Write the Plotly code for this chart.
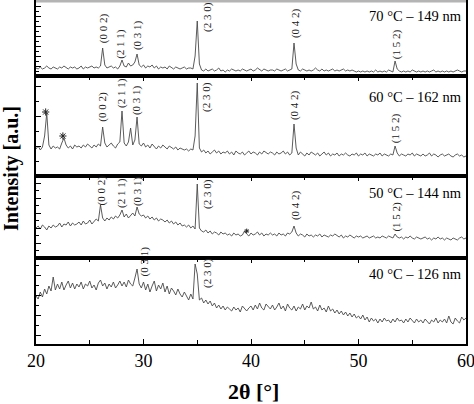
import plotly.graph_objects as go

# ---------------- data ----------------
two_theta = [round(20 + 0.2 * i, 1) for i in range(201)]  # 20.0 ... 60.0 deg

sample_labels = ["70 °C – 149 nm", "60 °C – 162 nm", "50 °C – 144 nm", "40 °C – 126 nm"]

int_70 = [
    8, 7, 9, 7, 8, 10, 8, 7, 9, 8,
    7, 9, 8, 10, 8, 7, 9, 8, 9, 7,
    8, 10, 7, 9, 8, 9, 10, 8, 9, 8,
    10, 28, 11, 8, 9, 10, 8, 9, 7, 10,
    16, 10, 9, 13, 10, 11, 14, 22, 11, 9,
    11, 8, 10, 9, 11, 8, 10, 7, 9, 8,
    9, 7, 10, 8, 7, 9, 8, 7, 8, 9,
    7, 8, 8, 7, 20, 55, 12, 6, 5, 7,
    5, 6, 7, 5, 6, 8, 5, 6, 4, 6,
    5, 7, 6, 5, 6, 5, 7, 6, 5, 6,
    7, 5, 6, 8, 6, 5, 7, 6, 5, 6,
    6, 5, 7, 6, 5, 6, 7, 5, 6, 7,
    33, 12, 6, 5, 7, 6, 5, 6, 5, 6,
    8, 6, 5, 7, 5, 6, 5, 6, 7, 5,
    6, 5, 6, 7, 5, 6, 5, 6, 5, 4,
    5, 4, 5, 4, 5, 4, 5, 4, 6, 4,
    5, 4, 5, 4, 6, 5, 4, 15, 7, 5,
    4, 5, 4, 5, 4, 6, 5, 4, 5, 4,
    5, 4, 5, 4, 5, 6, 4, 5, 4, 5,
    4, 5, 4, 5, 4, 5, 6, 5, 4, 5,
    5,
]

int_60 = [
    27, 30, 26, 29, 40, 63, 31, 27, 30, 28,
    29, 27, 33, 38, 31, 28, 30, 27, 31, 29,
    30, 28, 31, 29, 32, 30, 28, 31, 29, 32,
    30, 49, 33, 29, 31, 33, 30, 28, 32, 34,
    65, 33, 30, 34, 48, 31, 36, 59, 32, 30,
    33, 29, 31, 28, 32, 30, 27, 30, 28, 31,
    29, 27, 30, 28, 27, 29, 26, 28, 27, 26,
    27, 25, 27, 26, 40, 93, 28, 24, 26, 23,
    25, 22, 24, 26, 23, 25, 22, 24, 23, 25,
    22, 24, 21, 25, 23, 22, 24, 21, 23, 25,
    22, 24, 23, 21, 24, 22, 25, 23, 22, 24,
    23, 21, 24, 22, 23, 25, 22, 24, 21, 23,
    52, 28, 21, 24, 22, 20, 23, 21, 24, 22,
    21, 23, 20, 22, 24, 21, 23, 20, 22, 21,
    23, 20, 22, 21, 23, 21, 20, 22, 21, 23,
    20, 22, 21, 23, 20, 22, 21, 20, 22, 21,
    23, 20, 22, 21, 20, 22, 21, 30, 23, 20,
    22, 21, 20, 22, 21, 23, 20, 22, 21, 20,
    22, 20, 21, 23, 20, 22, 21, 19, 21, 22,
    20, 21, 22, 20, 19, 21, 22, 20, 21, 19,
    20,
]

int_50 = [
    30, 32, 29, 33, 31, 28, 32, 30, 33, 31,
    32, 35, 31, 34, 33, 36, 32, 35, 33, 34,
    36, 33, 37, 34, 35, 38, 34, 36, 39, 37,
    53, 40, 37, 40, 38, 41, 39, 42, 40, 43,
    48, 41, 44, 40, 43, 45, 42, 51, 44, 42,
    43, 40, 42, 39, 41, 38, 40, 37, 39, 38,
    36, 38, 35, 37, 34, 36, 33, 35, 32, 33,
    31, 33, 30, 32, 29, 74, 30, 27, 26, 28,
    25, 27, 24, 26, 25, 23, 26, 24, 25, 23,
    24, 22, 25, 23, 24, 22, 23, 27, 24, 22,
    25, 23, 24, 26, 23, 25, 22, 24, 23, 25,
    23, 24, 22, 25, 23, 24, 22, 25, 24, 26,
    32, 25, 22, 24, 23, 21, 24, 22, 23, 21,
    23, 22, 24, 21, 23, 22, 21, 23, 22, 24,
    22, 21, 23, 20, 22, 21, 23, 21, 20, 22,
    21, 22, 20, 21, 22, 20, 21, 22, 20, 21,
    20, 22, 21, 20, 22, 21, 20, 24, 21, 20,
    21, 19, 21, 20, 22, 20, 19, 21, 20, 19,
    20, 21, 19, 20, 18, 20, 19, 21, 19, 20,
    18, 20, 19, 18, 20, 19, 18, 20, 21, 19,
    20,
]

int_40 = [
    48, 45, 52, 47, 55, 50, 58, 53, 67, 54,
    60, 55, 62, 54, 59, 63, 56, 61, 55, 60,
    57, 62, 55, 60, 58, 63, 56, 59, 54, 61,
    64, 58, 61, 55, 60, 57, 62, 56, 59, 63,
    58, 62, 57, 64, 60, 58, 66, 75, 60, 56,
    62, 54, 60, 52, 58, 63, 53, 59, 55, 61,
    52, 58, 50, 56, 53, 49, 55, 50, 47, 52,
    48, 44, 50, 45, 80, 70, 44, 46, 41, 44,
    40, 43, 38, 41, 36, 39, 35, 38, 34, 37,
    35, 33, 37, 34, 36, 32, 38, 35, 33, 36,
    38, 34, 39, 35, 41, 36, 34, 40, 37, 35,
    39, 34, 37, 41, 35, 38, 33, 40, 36, 34,
    38, 33, 37, 35, 40, 34, 38, 36, 42, 35,
    37, 33, 39, 34, 36, 32, 38, 33, 35, 31,
    34, 30, 33, 29, 32, 28, 31, 27, 30, 26,
    28, 25, 29, 24, 27, 22, 26, 23, 25, 21,
    25, 22, 26, 23, 24, 21, 25, 22, 26, 23,
    24, 21, 25, 22, 26, 23, 21, 25, 22, 24,
    21, 25, 23, 20, 24, 22, 26, 21, 24, 22,
    25, 21, 28, 22, 20, 26, 23, 21, 27, 24,
    26,
]

series = [int_70, int_60, int_50, int_40]

x_ticks = [20, 30, 40, 50, 60]

# peak (hkl) labels per panel: (text, 2theta, intensity level of label centre)
peak_labels = [
    [("(0 0 2)", 26.25, 48), ("(2 1 1)", 27.8, 32), ("(0 3 1)", 29.4, 41),
     ("(2 3 0)", 35.9, 59), ("(0 4 2)", 44.1, 53), ("(1 5 2)", 53.5, 32)],
    [("(0 0 2)", 26.2, 69), ("(2 1 1)", 28.0, 83), ("(0 3 1)", 29.4, 76),
     ("(2 3 0)", 35.9, 79), ("(0 4 2)", 44.1, 71), ("(1 5 2)", 53.5, 48)],
    [("(0 0 2)", 26.0, 67), ("(2 1 1)", 27.9, 65), ("(0 3 1)", 29.4, 67),
     ("(2 3 0)", 35.9, 64), ("(0 4 2)", 44.1, 53), ("(1 5 2)", 53.45, 41)],
    [("(0 3 1)", 30.0, 82), ("(2 3 0)", 35.9, 71)],
]
# impurity marks (*) per panel: (2theta, intensity)
star_marks = [[], [(20.9, 64), (22.5, 40)], [(39.6, 27)], []]

# ---------------- layout ----------------
W, H = 474, 404
ML, MR, MT, MB = 36, 8, 0, 60
panel_px = [76, 100, 82, 86]          # heights of the panels, top to bottom
total_px = sum(panel_px)
y_ranges = [[0, 76], [0, 100], [0, 82], [0, 86]]
y_dticks = [(10, 5, 0), (30, 15, 0), (15, 7.5, 0), (20, 10, 9)]
star_sizes = [6, 6, 4, 6]

FONT = "Liberation Serif"
LINE = "#4a4a4a"

fig = go.Figure()
layout = dict(
    width=W, height=H,
    margin=dict(l=ML, r=MR, t=MT, b=MB),
    paper_bgcolor="white", plot_bgcolor="white",
    showlegend=False,
    font=dict(family=FONT, color="black"),
)

top = total_px
annotations = []
for i, ys in enumerate(series):
    n = i + 1
    xa = "x" if n == 1 else f"x{n}"
    ya = "y" if n == 1 else f"y{n}"
    fig.add_trace(go.Scatter(x=two_theta, y=ys, mode="lines",
                             line=dict(color=LINE, width=0.9),
                             xaxis=xa, yaxis=ya, hoverinfo="skip"))
    if star_marks[i]:
        fig.add_trace(go.Scatter(x=[s[0] for s in star_marks[i]],
                                 y=[s[1] for s in star_marks[i]],
                                 mode="markers", xaxis=xa, yaxis=ya,
                                 hoverinfo="skip", cliponaxis=False,
                                 marker=dict(symbol="asterisk-open", size=star_sizes[i],
                                             color="#222",
                                             line=dict(color="#222", width=1))))
    d1 = top / total_px
    d0 = (top - panel_px[i]) / total_px
    top -= panel_px[i]
    xkey = "xaxis" if n == 1 else f"xaxis{n}"
    ykey = "yaxis" if n == 1 else f"yaxis{n}"
    xdict = dict(domain=[0, 1], range=[20, 60], anchor=ya, showgrid=False,
                 zeroline=False, showline=True, linecolor="black", linewidth=1.5,
                 tickvals=x_ticks, ticklabeloverflow="allow",
                 tickfont=dict(family=FONT, size=18, color="black"))
    if n == 1:
        xdict.update(ticks="", showticklabels=False, mirror=False)
    elif n < 4:
        xdict.update(side="top", ticks="inside", ticklen=5, tickwidth=1.2,
                     tickcolor="black", mirror=True, showticklabels=False,
                     minor=dict(ticks="inside", dtick=5, tick0=20, ticklen=4,
                                tickcolor="black", tickwidth=1.2))
    else:
        xdict.update(side="bottom", ticks="inside", ticklen=5, tickwidth=1.2,
                     tickcolor="black", mirror="ticks", showticklabels=True,
                     minor=dict(ticks="inside", dtick=5, tick0=20, ticklen=4,
                                tickcolor="black", tickwidth=1.2))
    layout[xkey] = xdict
    dt, mdt, t0 = y_dticks[i]
    layout[ykey] = dict(domain=[d0, d1], range=y_ranges[i], anchor=xa,
                        showgrid=False, zeroline=False, showline=True,
                        linecolor="black", linewidth=1.5, mirror=True,
                        ticks="inside", ticklen=5, tickwidth=1.2, tickcolor="black",
                        dtick=dt, tick0=t0, showticklabels=False,
                        minor=dict(ticks="inside", dtick=mdt, tick0=t0, ticklen=3,
                                   tickcolor="black", tickwidth=1.2))
    # sample label
    annotations.append(dict(x=59.8, y=[60, 79, 65, 70][i], xref=xa, yref=ya,
                            text=sample_labels[i], showarrow=False,
                            xanchor="right", yanchor="middle",
                            font=dict(family=FONT, size=14.5, color="black")))
    for txt, px_, py_ in peak_labels[i]:
        annotations.append(dict(x=px_, y=py_, xref=xa, yref=ya, text=txt,
                                showarrow=False, textangle=-90,
                                xanchor="center", yanchor="middle",
                                font=dict(family=FONT, size=11, color="#222")))

# axis titles
annotations.append(dict(x=(11 - ML) / (W - ML - MR), y=(total_px - 169) / total_px,
                        xref="paper", yref="paper", text="<b>Intensity [a.u.]</b>",
                        textangle=-90, showarrow=False, xanchor="center",
                        yanchor="middle", borderpad=0,
                        font=dict(family=FONT, size=20, color="black")))
annotations.append(dict(x=(253 - ML) / (W - ML - MR), y=(total_px - 391) / total_px,
                        xref="paper", yref="paper", text="<b>2θ [°]</b>",
                        showarrow=False, xanchor="center", yanchor="middle",
                        font=dict(family=FONT, size=22, color="black")))
layout["annotations"] = annotations
layout["shapes"] = [dict(type="rect", xref="paper", yref="paper", x0=0, x1=1,
                         y0=1 - 2.5 / total_px, y1=1, fillcolor="#b4b4b4",
                         line=dict(width=0), layer="above")]

fig.update_layout(**layout)
fig.write_html("out.html")
